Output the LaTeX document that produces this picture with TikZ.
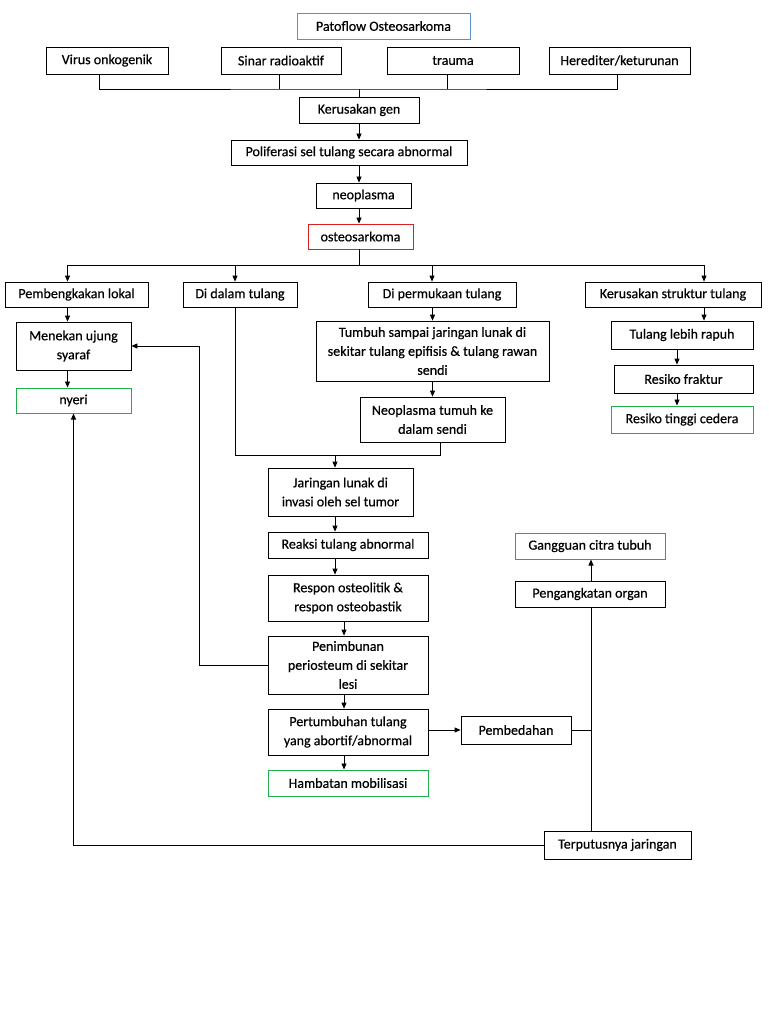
\documentclass[tikz,border=0pt]{standalone}
\usepackage{fontspec}
\setmainfont{Carlito}
\newfontfamily\boxfont{Carlito}[FakeBold=0.5]
\usetikzlibrary{arrows.meta,calc}
\definecolor{tblue}{RGB}{91,145,205}
\definecolor{tred}{RGB}{220,30,30}
\definecolor{tgreen}{RGB}{30,175,75}
\begin{document}
\begin{tikzpicture}[x=1pt,y=-1pt,
  box/.style={draw=black,line width=0.8pt,inner sep=1pt,align=center,font=\boxfont\fontsize{14}{19}\selectfont},
  gbox/.style={box,draw=tgreen,line width=1pt},
  arr/.style={line width=0.8pt,-{Triangle[length=6pt,width=5pt]}},
  ln/.style={line width=0.8pt}]
\useasboundingbox (0,0) rectangle (768,1024);
\fill[white] (0,0) rectangle (768,1024);
% top
\node[box,draw=tblue,minimum width=173,minimum height=26] (title) at (383.5,26) {Patoflow Osteosarkoma};
\node[box,minimum width=122,minimum height=27] (virus) at (107,60.5) {Virus onkogenik};
\node[box,minimum width=120,minimum height=27] (sinar) at (281,60.5) {Sinar radioaktif};
\node[box,minimum width=132,minimum height=27] (trauma) at (453,60.5) {trauma};
\node[box,minimum width=141,minimum height=27] (hered) at (619.5,60.5) {Herediter/keturunan};
\node[box,minimum width=120,minimum height=26] (kerusakan) at (359,110) {Kerusakan gen};
\node[box,minimum width=236,minimum height=25] (polif) at (349,152.5) {Poliferasi sel tulang secara abnormal};
\node[box,minimum width=95,minimum height=25] (neo) at (363.5,195.5) {neoplasma};
\node[box,draw=tred,minimum width=105,minimum height=25] (osteo) at (360.5,236.5) {osteosarkoma};
% second level
\node[box,minimum width=143,minimum height=25] (pemb) at (76.5,294.5) {Pembengkakan lokal};
\node[box,minimum width=114,minimum height=25] (didalam) at (240,294.5) {Di dalam tulang};
\node[box,minimum width=148,minimum height=25] (diperm) at (442,294.5) {Di permukaan tulang};
\node[box,minimum width=176,minimum height=25] (kerstruk) at (673,294.5) {Kerusakan struktur tulang};
% left column
\node[box,minimum width=115,minimum height=48] (menekan) at (73.5,346) {Menekan ujung\\syaraf};
\node[gbox,minimum width=115,minimum height=25] (nyeri) at (73.5,400.5) {nyeri};
% middle
\node[box,minimum width=233,minimum height=60] (tumbuh) at (432.5,351) {Tumbuh sampai jaringan lunak di\\sekitar tulang epifisis \& tulang rawan\\sendi};
\node[box,minimum width=145,minimum height=45] (neotumuh) at (432.5,419.5) {Neoplasma tumuh ke\\dalam sendi};
% right
\node[box,minimum width=142,minimum height=28] (rapuh) at (682,335) {Tulang lebih rapuh};
\node[box,minimum width=139,minimum height=28] (fraktur) at (683.5,379) {Resiko fraktur};
\node[gbox,minimum width=142,minimum height=27] (cedera) at (682,419.5) {Resiko tinggi cedera};
% center column
\node[box,minimum width=145,minimum height=48] (jaringan) at (340.5,492) {Jaringan lunak di\\invasi oleh sel tumor};
\node[box,minimum width=160,minimum height=26] (reaksi) at (348,545) {Reaksi tulang abnormal};
\node[box,minimum width=160,minimum height=46] (respon) at (348,598) {Respon osteolitik \&\\respon osteobastik};
\node[box,minimum width=160,minimum height=58] (penimb) at (348,665) {Penimbunan\\periosteum di sekitar\\lesi};
\node[box,minimum width=160,minimum height=46] (pertumb) at (348,732) {Pertumbuhan tulang\\yang abortif/abnormal};
\node[gbox,minimum width=160,minimum height=26] (hambatan) at (348,783) {Hambatan mobilisasi};
% right lower
\node[box,minimum width=110,minimum height=28] (pembedahan) at (516,730) {Pembedahan};
\node[box,minimum width=150,minimum height=26] (pengangkatan) at (590,594) {Pengangkatan organ};
\node[gbox,minimum width=150,minimum height=26] (gangguan) at (590,546) {Gangguan citra tubuh};
\node[box,minimum width=147,minimum height=28] (terputus) at (617.5,845) {Terputusnya jaringan};
% coordinates
\coordinate (busA) at (359,89);
\coordinate (bus2) at (359,265);
\coordinate (join) at (335,455);
\coordinate (trunk) at (591,730);
\coordinate (lb) at (199,0);
% top bus
\draw[ln] ([xshift=-8]virus.south) |- (busA) -| ([xshift=-2]hered.south);
\draw[ln] ([xshift=-2]sinar.south) -- ([xshift=-2]sinar.south |- busA);
\draw[ln] ([xshift=-6]trauma.south) -- ([xshift=-6]trauma.south |- busA);
\draw[ln] (busA) -- (busA |- kerusakan.north);
\draw[arr] (kerusakan.south) -- (kerusakan.south |- polif.north);
\draw[arr] (kerusakan.south |- polif.south) -- (kerusakan.south |- neo.north);
\draw[arr] (kerusakan.south |- neo.south) -- (kerusakan.south |- osteo.north);
\draw[ln] (bus2 |- osteo.south) -- (bus2);
\draw[arr] (bus2) -| ([xshift=-9]pemb.north);
\draw[arr] (bus2) -| ([xshift=-5]didalam.north);
\draw[arr] (bus2) -| ([xshift=-10]diperm.north);
\draw[arr] (bus2) -| ([xshift=31]kerstruk.north);
% left column
\draw[arr] ([xshift=-9]pemb.south) -- ([xshift=-9]pemb.south |- menekan.north);
\draw[arr] ([xshift=-6]menekan.south) -- ([xshift=-6]menekan.south |- nyeri.north);
% middle
\draw[arr] (tumbuh.north |- diperm.south) -- (tumbuh.north);
\draw[arr] (tumbuh.south) -- (neotumuh.north);
% right
\draw[arr] ([xshift=31]kerstruk.south) -- ([xshift=31]kerstruk.south |- rapuh.north);
\draw[arr] ([xshift=-5]rapuh.south) -- ([xshift=-5]rapuh.south |- fraktur.north);
\draw[arr] ([xshift=-5]rapuh.south |- fraktur.south) -- ([xshift=-5]rapuh.south |- cedera.north);
% join
\draw[ln] ([xshift=-5]didalam.south) |- ([xshift=8]neotumuh.south |- join) -- ([xshift=8]neotumuh.south);
\draw[arr] (join) -- (join |- jaringan.north);
\draw[arr] (join |- jaringan.south) -- (join |- reaksi.north);
\draw[arr] (join |- reaksi.south) -- (join |- respon.north);
\draw[arr] ([xshift=-4]respon.south) -- ([xshift=-4]penimb.north);
\draw[arr] ([xshift=-4]penimb.south) -- ([xshift=-4]pertumb.north);
\draw[arr] ([xshift=-4]pertumb.south) -- ([xshift=-4]hambatan.north);
% right lower
\draw[arr] (pertumb.east |- pembedahan.west) -- (pembedahan.west);
\draw[ln] (pembedahan.east) -- (trunk);
\draw[ln] (trunk |- pengangkatan.south) -- (trunk |- terputus.north);
\draw[arr] (trunk |- pengangkatan.north) -- (trunk |- gangguan.south);
% feedback
\draw[arr] (terputus.west) -| (nyeri.south);
\draw[arr] (penimb.west) -- (lb |- penimb.west) |- (menekan.east);
\end{tikzpicture}
\end{document}
